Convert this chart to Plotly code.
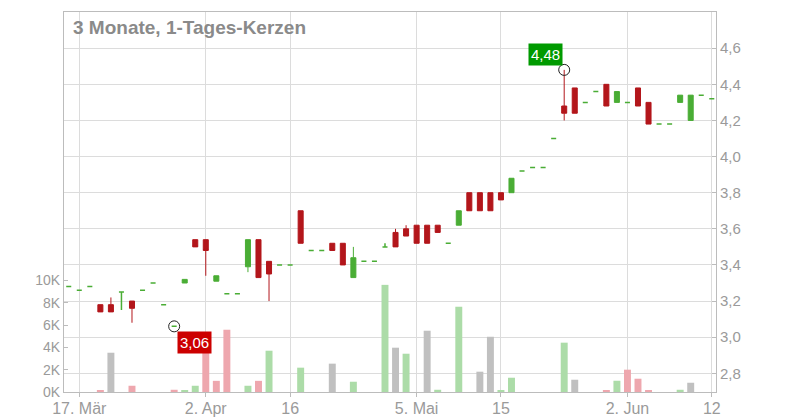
import plotly.graph_objects as go

# ---- data (trading-day index 0..61) ----
tick_pos = [1, 13, 21, 33, 41, 53, 61]
tick_text = ["17. Mär", "2. Apr", "16", "5. Mai", "15", "2. Jun", "12"]
price_ticks = [2.8, 3.0, 3.2, 3.4, 3.6, 3.8, 4.0, 4.2, 4.4, 4.6]

opens = [3.28, 3.26, 3.28, 3.18, 3.18, 3.25, 3.20, 3.26, 3.30, 3.18,
         3.06, 3.30, 3.54, 3.54, 3.31, 3.24, 3.24, 3.39, 3.54, 3.42,
         3.40, 3.40, 3.70, 3.48, 3.48, 3.52, 3.52, 3.33, 3.42, 3.42,
         3.50, 3.58, 3.60, 3.62, 3.62, 3.62, 3.52, 3.62, 3.80, 3.80,
         3.80, 3.80, 3.80, 3.92, 3.94, 3.94, 4.10, 4.28, 4.38, 4.30,
         4.36, 4.40, 4.30, 4.30, 4.38, 4.30, 4.18, 4.18, 4.30, 4.20,
         4.34, 4.32]
highs = [3.28, 3.26, 3.28, 3.18, 3.22, 3.25, 3.20, 3.26, 3.30, 3.18,
         3.06, 3.32, 3.54, 3.54, 3.34, 3.24, 3.24, 3.54, 3.54, 3.42,
         3.40, 3.40, 3.70, 3.48, 3.48, 3.52, 3.52, 3.50, 3.42, 3.42,
         3.52, 3.60, 3.62, 3.62, 3.62, 3.62, 3.52, 3.70, 3.80, 3.80,
         3.80, 3.80, 3.88, 3.92, 3.94, 3.94, 4.10, 4.48, 4.38, 4.30,
         4.36, 4.40, 4.36, 4.30, 4.38, 4.30, 4.18, 4.18, 4.34, 4.34,
         4.34, 4.32]
lows = [3.28, 3.26, 3.28, 3.14, 3.14, 3.15, 3.08, 3.26, 3.30, 3.18,
        3.06, 3.30, 3.50, 3.34, 3.31, 3.24, 3.24, 3.36, 3.33, 3.20,
        3.40, 3.40, 3.52, 3.48, 3.48, 3.48, 3.40, 3.33, 3.42, 3.42,
        3.50, 3.50, 3.56, 3.52, 3.52, 3.58, 3.52, 3.62, 3.70, 3.70,
        3.70, 3.76, 3.80, 3.92, 3.94, 3.94, 4.10, 4.20, 4.24, 4.30,
        4.36, 4.28, 4.30, 4.30, 4.28, 4.18, 4.18, 4.18, 4.30, 4.20,
        4.34, 4.32]
closes = [3.28, 3.26, 3.28, 3.14, 3.14, 3.25, 3.16, 3.26, 3.30, 3.18,
          3.06, 3.32, 3.50, 3.48, 3.34, 3.24, 3.24, 3.54, 3.33, 3.35,
          3.40, 3.40, 3.52, 3.48, 3.48, 3.48, 3.40, 3.44, 3.42, 3.42,
          3.50, 3.50, 3.56, 3.52, 3.52, 3.58, 3.52, 3.70, 3.70, 3.70,
          3.70, 3.76, 3.88, 3.92, 3.94, 3.94, 4.10, 4.24, 4.24, 4.30,
          4.36, 4.28, 4.36, 4.30, 4.28, 4.18, 4.18, 4.18, 4.34, 4.34,
          4.34, 4.32]
volumes = [0, 0, 0, 120, 3520, 0, 560, 0, 0, 0,
           200, 120, 560, 4800, 1000, 5580, 0, 560, 1000, 3700,
           0, 0, 2180, 0, 0, 2540, 0, 920, 0, 0,
           9600, 3970, 3430, 0, 5490, 200, 0, 7640, 0, 1820,
           4950, 120, 1280, 0, 0, 0, 0, 4420, 1100, 0,
           0, 120, 1010, 2000, 1190, 120, 0, 0, 200, 830,
           0, 0]
vol_ticks = [0, 2000, 4000, 6000, 8000, 10000]
vol_tick_text = ["0K", "2K", "4K", "6K", "8K", "10K"]
low_idx, low_val = 10, 3.06
high_idx, high_val = 47, 4.48

# ---- styles ----
RED = "#b3161b"
GREEN = "#4aad35"
VOL_UP = "#acdca8"
VOL_DN = "#eea7ae"
VOL_EQ = "#c0c0c0"
GRID = "#dcdcdc"
AXIS = "#bcbcbc"
TXT = "#9a9a9a"
FONT = "Liberation Sans, Arial, sans-serif"

n = len(closes)
idx = list(range(n))

vol_colors = []
for i in idx:
    if i == 0:
        vol_colors.append(VOL_EQ)
    elif closes[i] > closes[i - 1] + 1e-9:
        vol_colors.append(VOL_UP)
    elif closes[i] < closes[i - 1] - 1e-9:
        vol_colors.append(VOL_DN)
    else:
        vol_colors.append(VOL_EQ)

doji = [i for i in idx if abs(opens[i] - closes[i]) < 1e-9]
body = [i for i in idx if i not in doji]

fig = go.Figure()

fig.add_trace(go.Bar(
    x=idx, y=volumes, marker=dict(color=vol_colors, line=dict(width=0)),
    width=0.66, yaxis="y2", showlegend=False, hoverinfo="skip"))

fig.add_trace(go.Candlestick(
    x=body, open=[opens[i] for i in body], high=[highs[i] for i in body],
    low=[lows[i] for i in body], close=[closes[i] for i in body],
    increasing=dict(line=dict(color=GREEN, width=1), fillcolor=GREEN),
    decreasing=dict(line=dict(color=RED, width=1), fillcolor=RED),
    whiskerwidth=0, showlegend=False, yaxis="y"))

fig.add_trace(go.Candlestick(
    x=doji, open=[opens[i] for i in doji], high=[highs[i] for i in doji],
    low=[lows[i] for i in doji], close=[closes[i] for i in doji],
    increasing=dict(line=dict(color=GREEN, width=1.5), fillcolor=GREEN),
    decreasing=dict(line=dict(color=GREEN, width=1.5), fillcolor=GREEN),
    whiskerwidth=0, showlegend=False, yaxis="y"))

fig.add_trace(go.Scatter(
    x=[low_idx, high_idx], y=[low_val, high_val], mode="markers",
    marker=dict(symbol="circle-open", size=11, color="#222",
                line=dict(width=1, color="#222")),
    showlegend=False, hoverinfo="skip", yaxis="y"))

fig.add_annotation(x=low_idx, y=low_val, xref="x", yref="y",
                   text=f"{low_val:.2f}".replace(".", ","),
                   xanchor="left", yanchor="top", xshift=3, yshift=-5,
                   showarrow=False, bgcolor="#cc0000", borderpad=2,
                   font=dict(family=FONT, size=15, color="white"))
fig.add_annotation(x=high_idx, y=high_val, xref="x", yref="y",
                   text=f"{high_val:.2f}".replace(".", ","),
                   xanchor="right", yanchor="bottom", xshift=-1, yshift=4,
                   showarrow=False, bgcolor="#009a00", borderpad=2,
                   font=dict(family=FONT, size=15, color="white"))

fig.add_annotation(x=0, y=1, xref="paper", yref="paper",
                   text="<b>3 Monate, 1-Tages-Kerzen</b>",
                   xanchor="left", yanchor="top", xshift=7, yshift=-3,
                   showarrow=False,
                   font=dict(family=FONT, size=19, color="#8a8a8a"))

fig.update_layout(
    width=800, height=420, autosize=False,
    margin=dict(l=64, r=84, t=12, b=28, autoexpand=False),
    paper_bgcolor="white", plot_bgcolor="white",
    separators=",.",
    font=dict(family=FONT, color=TXT),
    boxgap=0.32,
    barmode="overlay",
    hovermode=False,
    xaxis=dict(
        range=[-0.45, 61.4], tickvals=tick_pos, ticktext=tick_text,
        showgrid=True, gridcolor=GRID, gridwidth=1, zeroline=False,
        showline=True, linecolor=AXIS, linewidth=1, mirror=True,
        ticks="outside", ticklen=4, tickcolor=AXIS, automargin=False,
        ticklabelstandoff=-2,
        tickfont=dict(family=FONT, size=16, color=TXT),
        rangeslider=dict(visible=False)),
    yaxis=dict(
        side="right", range=[2.6965, 4.8005], tickvals=price_ticks,
        tickformat=".1f", showgrid=True, gridcolor=GRID, zeroline=False,
        showline=True, linecolor=AXIS, linewidth=1, automargin=False,
        ticks="inside", ticklen=4, tickcolor=AXIS,
        tickfont=dict(family=FONT, size=15, color=TXT)),
    yaxis2=dict(
        overlaying="y", side="left", range=[0, 34050],
        tickvals=vol_ticks, ticktext=vol_tick_text,
        showgrid=False, zeroline=False, automargin=False,
        showline=True, linecolor=AXIS, linewidth=1,
        ticks="inside", ticklen=4, tickcolor=AXIS,
        tickfont=dict(family=FONT, size=14, color=TXT)),
)

fig.write_html("out.html")
